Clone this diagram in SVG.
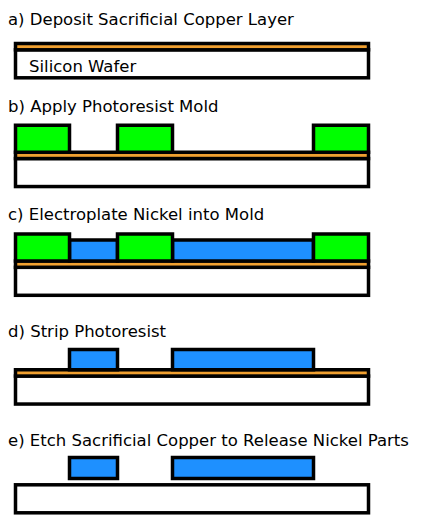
<svg xmlns="http://www.w3.org/2000/svg" width="429" height="526" viewBox="0 0 429 526">
<style>
.t{font-family:"DejaVu Sans",sans-serif;font-size:16.5px;fill:#000}
.w{fill:#fff;stroke:#000;stroke-width:3.5}
.cu{fill:#f0a030;stroke:#000;stroke-width:3.5}
.pr{fill:#00ff00;stroke:#000;stroke-width:3.5}
.ni{fill:#1e90ff;stroke:#000;stroke-width:3.5}
</style>
<rect width="429" height="526" fill="#fff"/>
<g id="panel-a">
<text class="t" x="8" y="25">a) Deposit Sacrificial Copper Layer</text>
<rect class="w" x="15.5" y="49.8" width="353" height="28"/>
<rect class="cu" x="15.5" y="43.5" width="353" height="6.3"/>
<text class="t" x="29" y="72">Silicon Wafer</text>
</g>
<g id="panel-b">
<text class="t" x="8" y="112">b) Apply Photoresist Mold</text>
<rect class="w" x="15.5" y="158.55" width="353" height="28"/>
<rect class="cu" x="15.5" y="152.25" width="353" height="6.3"/>
<rect class="pr" x="15.5" y="125.25" width="54" height="27"/>
<rect class="pr" x="117.5" y="125.25" width="55" height="27"/>
<rect class="pr" x="313.5" y="125.25" width="55" height="27"/>
</g>
<g id="panel-c">
<text class="t" x="8" y="220">c) Electroplate Nickel into Mold</text>
<rect class="w" x="15.5" y="267.3" width="353" height="28"/>
<rect class="cu" x="15.5" y="261" width="353" height="6.3"/>
<rect class="ni" x="69.5" y="240" width="48" height="21"/>
<rect class="ni" x="172.5" y="240" width="141" height="21"/>
<rect class="pr" x="15.5" y="234" width="54" height="27"/>
<rect class="pr" x="117.5" y="234" width="55" height="27"/>
<rect class="pr" x="313.5" y="234" width="55" height="27"/>
</g>
<g id="panel-d">
<text class="t" x="8" y="337">d) Strip Photoresist</text>
<rect class="w" x="15.5" y="376.05" width="353" height="28"/>
<rect class="cu" x="15.5" y="369.75" width="353" height="6.3"/>
<rect class="ni" x="69.5" y="349.5" width="48" height="20.25"/>
<rect class="ni" x="172.5" y="349.5" width="141" height="20.25"/>
</g>
<g id="panel-e">
<text class="t" x="8" y="446">e) Etch Sacrificial Copper to Release Nickel Parts</text>
<rect class="w" x="15.5" y="484.8" width="353" height="28"/>
<rect class="ni" x="69.5" y="457.5" width="48" height="21"/>
<rect class="ni" x="172.5" y="457.5" width="141" height="21"/>
</g>
</svg>
